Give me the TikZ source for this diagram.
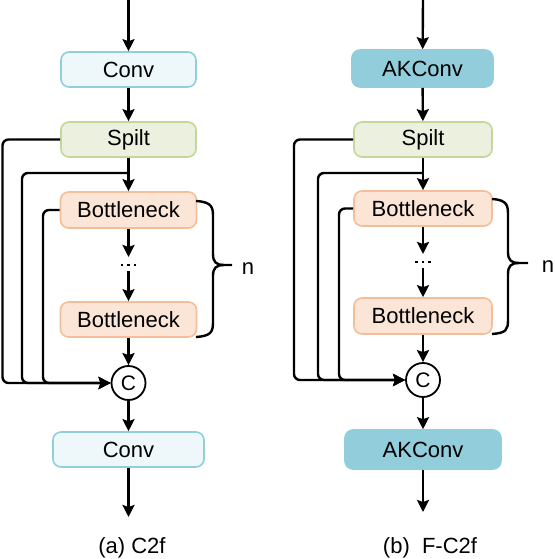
\documentclass[tikz,border=0pt]{standalone}
\usepackage{fontspec}
\setmainfont{Liberation Sans}
\usetikzlibrary{arrows.meta}
\definecolor{convfill}{HTML}{EEF8FB}
\definecolor{convline}{HTML}{92CDDC}
\definecolor{akfill}{HTML}{92CDDC}
\definecolor{splitfill}{HTML}{EBF1DE}
\definecolor{splitline}{HTML}{C3D69B}
\definecolor{bnfill}{HTML}{FBE5D6}
\definecolor{bnline}{HTML}{F4BE98}
\tikzset{
  blk/.style={rounded corners=8pt, line width=1.6pt, inner sep=0pt,
    font=\fontsize{22}{26}\selectfont, text=black},
  convbox/.style={blk, fill=convfill, draw=convline},
  akbox/.style={blk, fill=akfill, draw=akfill},
  splitbox/.style={blk, fill=splitfill, draw=splitline},
  bnbox/.style={blk, fill=bnfill, draw=bnline},
  catnode/.style={circle, draw=black, line width=1.8pt, fill=white, minimum size=34pt, inner sep=0pt,
    font=\fontsize{21}{24}\selectfont},
  arr/.style={line width=2.4pt, -{Stealth[length=12pt,width=12pt,inset=2pt]}},
  skip/.style={line width=2.4pt, rounded corners=6pt, -{Stealth[length=12pt,width=12pt,inset=2pt]}},
  bracepath/.style={line width=2.4pt},
  captext/.style={font=\fontsize{22}{26}\selectfont},
  dotp/.style={fill=black, inner sep=0pt, minimum size=2.2pt},
}
\begin{document}
\begin{tikzpicture}[x=1pt,y=-1pt]
\useasboundingbox (0,0) rectangle (554,559);
% ---------------- left: C2f ----------------
\node[convbox, minimum width=135pt, minimum height=35pt] (conv1) at (128.5,69.5) {Conv};
\node[splitbox, minimum width=135pt, minimum height=35pt] (split1) at (128.5,139.5) {Spilt};
\node[bnbox, minimum width=136pt, minimum height=36pt] (bn1a) at (128.5,210) {Bottleneck};
\node[bnbox, minimum width=136pt, minimum height=35pt] (bn1b) at (128.5,319.5) {Bottleneck};
\node[catnode] (c1) at (128.5,383) {C};
\node[convbox, minimum width=151pt, minimum height=35pt] (conv1b) at (128.5,449.5) {Conv};
\node[captext] (cap1) at (132,548) {(a) C2f};
\coordinate (in1) at (128.5,0);
\coordinate (out1) at (128.5,517);
\coordinate (br1) at (128.5,173);
\coordinate (d1a) at (128.5,257);
\coordinate (d1b) at (128.5,271);
\draw[arr] (in1) -- (conv1);
\draw[arr] (conv1) -- (split1);
\draw[arr] (split1) -- (bn1a);
\draw[skip] (split1.west) -- (2.5,139.5) -- (2.5,383) -- (c1.west);
\draw[skip] (br1) -- (22,173) -- (22,383) -- (c1.west);
\draw[skip] (bn1a.west) -- (43,210) -- (43,383) -- (c1.west);
\draw[arr] (bn1a) -- (d1a);
\node[dotp] (p1a) at (122,265) {};
\node[dotp] (p1b) at (128.5,265) {};
\node[dotp] (p1c) at (135,265) {};
\draw[arr] (d1b) -- (bn1b);
\draw[arr] (bn1b) -- (c1);
\draw[arr] (c1) -- (conv1b);
\draw[arr] (conv1b) -- (out1);
\draw[bracepath] (196,201) .. controls (213,202) and (213,208) .. (213,218) -- (213,254)
  .. controls (213,262) and (216,265) .. (224,265) -- (232,265);
\draw[bracepath] (224,265) .. controls (216,265) and (213,268) .. (213,276) -- (213,322)
  .. controls (213,332) and (211,336) .. (196,337);
\node[captext] (n1) at (248,269) {n};
% ---------------- right: F-C2f ----------------
\node[akbox, minimum width=141pt, minimum height=37pt] (ak1) at (422.5,68.5) {AKConv};
\node[splitbox, minimum width=138pt, minimum height=35pt] (split2) at (423,139.5) {Spilt};
\node[bnbox, minimum width=138pt, minimum height=35pt] (bn2a) at (423,208.5) {Bottleneck};
\node[bnbox, minimum width=138pt, minimum height=36pt] (bn2b) at (423,316) {Bottleneck};
\node[catnode] (c2) at (423,380) {C};
\node[akbox, minimum width=156pt, minimum height=39pt] (ak2) at (423,449.5) {AKConv};
\node[captext] (cap2) at (430,548) {(b)\ \ F-C2f};
\coordinate (in2) at (423,0);
\coordinate (out2) at (423,512);
\coordinate (br2) at (423,173);
\coordinate (d2a) at (423,254);
\coordinate (d2b) at (423,268);
\draw[arr] (in2) -- (ak1);
\draw[arr] (ak1) -- (split2);
\draw[arr] (split2) -- (bn2a);
\draw[skip] (split2.west) -- (294,139.5) -- (294,380) -- (c2.west);
\draw[skip] (br2) -- (318,173) -- (318,380) -- (c2.west);
\draw[skip] (bn2a.west) -- (339,208.5) -- (339,380) -- (c2.west);
\draw[arr] (bn2a) -- (d2a);
\node[dotp] (p2a) at (416.5,262) {};
\node[dotp] (p2b) at (423,262) {};
\node[dotp] (p2c) at (429.5,262) {};
\draw[arr] (d2b) -- (bn2b);
\draw[arr] (bn2b) -- (c2);
\draw[arr] (c2) -- (ak2);
\draw[arr] (ak2) -- (out2);
\draw[bracepath] (492,199) .. controls (508,200) and (508,206) .. (508,216) -- (508,252)
  .. controls (508,260) and (511,263) .. (519,263) -- (528,263);
\draw[bracepath] (519,263) .. controls (511,263) and (508,266) .. (508,274) -- (508,320)
  .. controls (508,330) and (506,333) .. (492,334);
\node[captext] (n2) at (548,267) {n};
\end{tikzpicture}
\end{document}
